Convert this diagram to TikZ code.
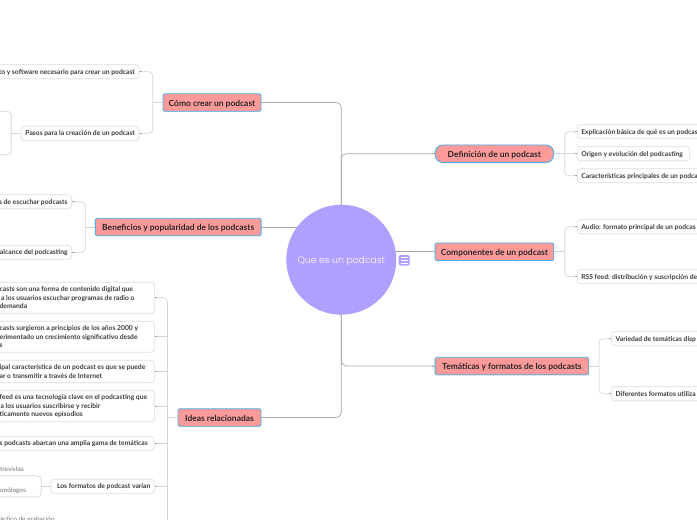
\documentclass[tikz,border=0pt]{standalone}
\usepackage{fontspec}
\setmainfont{Lato}
\newfontfamily\centerfont{Poppins Light}
\usetikzlibrary{shadows}
\definecolor{topicfill}{HTML}{FF9A9A}
\definecolor{topicline}{HTML}{45B0E8}
\definecolor{centerfill}{HTML}{AFA0FF}
\definecolor{leafline}{HTML}{DEDEDE}
\definecolor{busline}{HTML}{D6D6D6}
\definecolor{mainline}{HTML}{A8A8A8}
\definecolor{leaftext}{HTML}{3C3C3C}
\newcommand{\lpad}{\hspace*{30pt}}
\pgfdeclarelayer{bg}
\pgfsetlayers{bg,main}
\tikzset{
  x=1pt,y=-1pt,
  topic/.style={draw=topicline,line width=0.9pt,fill=topicfill,rounded corners=1.5pt,inner sep=0pt,
    minimum height=17.5pt,text height=7.5pt,text depth=0.5pt,font=\fontsize{8.45}{9}\selectfont\bfseries,text=black!85,
    drop shadow={shadow xshift=0pt,shadow yshift=-0.8pt,opacity=0.18}},
  leaf/.style={draw=leafline,line width=0.7pt,fill=white,rounded corners=3pt,inner ysep=0pt,inner xsep=4pt,
    font=\fontsize{6.75}{8.6}\selectfont\bfseries,text=leaftext},
  leafR/.style={leaf,anchor=east,align=flush right,minimum height=14pt,text height=6pt,text depth=0.8pt},
  leafL/.style={leaf,anchor=west,align=flush left,minimum height=14pt,text height=6pt,text depth=0.8pt},
  leafM/.style={leaf,anchor=east,align=flush left,inner xsep=0pt,text width=184.7pt},
  plain/.style={inner sep=0pt,anchor=west,font=\fontsize{6.4}{7}\selectfont,text=black!55},
  main/.style={draw=mainline,line width=0.7pt,rounded corners=5pt},
  bus/.style={draw=busline,line width=0.7pt,rounded corners=4pt},
  stub/.style={draw=mainline,line width=0.9pt},
}
\begin{document}
\begin{tikzpicture}
\useasboundingbox (0,0) rectangle (697,520);
\begin{pgfonlayer}{bg}
\fill[white] (0,0) rectangle (697,520);
\end{pgfonlayer}
% centre
\node[circle,fill=centerfill,minimum size=110pt,inner sep=0pt,text=white,text height=8pt,text depth=0.5pt,font=\fontsize{9.3}{10}\selectfont\centerfont] (center) at (341.3,259.7) {Que es un podcast};
\node[fill=centerfill,rounded corners=1.5pt,minimum width=11pt,minimum height=10.7pt,inner sep=0pt] (icon) at (404.2,260.3) {};
\draw[white,line width=0.8pt] (400.9,257.7) -- (407.5,257.7) (400.9,260.3) -- (407.5,260.3) (400.9,262.9) -- (407.5,262.9);
% topics
\node[topic,minimum width=98pt] (t1) at (212,102.5) {Cómo crear un podcast};
\node[topic,minimum width=165.7pt] (t2) at (178.2,227) {Beneficios y popularidad de los podcasts};
\node[topic,minimum width=83pt] (t3) at (219.5,417.5) {Ideas relacionadas};
\node[topic,minimum width=118.7pt,rounded corners=8pt] (t4) at (494.4,153.7) {Definición de un podcast};
\node[topic,minimum width=118.7pt] (t5) at (494.4,251.7) {Componentes de un podcast};
\node[topic,minimum width=153.7pt] (t6) at (511.9,366) {Temáticas y formatos de los podcasts};
% leaves, left
\node[leafR,text width=152pt] (a1) at (139.3,71.7) {to y software necesario para crear un podcast};
\node[leafR,text width=110pt] (a2) at (139.3,133.3) {Pasos para la creación de un podcast};
\node[leafR,text width=82pt] (b1) at (72,201.7) {s de escuchar podcasts};
\node[leafR,text width=82pt] (b2) at (72,252.3) {alcance del podcasting};
\node[leafM,minimum height=31pt] (c1) at (154.7,297.8) {\lpad casts son una forma de contenido digital que\\\lpad\hspace{1.5pt}a los usuarios escuchar programas de radio o\\\lpad demanda};
\node[leafM,minimum height=31pt] (c2) at (154.7,336.8) {\lpad casts surgieron a principios de los años 2000 y\\\lpad erimentado un crecimiento significativo desde\\\lpad s};
\node[leafM,minimum height=22.4pt] (c3) at (154.7,371.5) {\lpad ipal característica de un podcast es que se puede\\\lpad ar o transmitir a través de Internet};
\node[leafM,minimum height=31pt] (c4) at (154.7,406.2) {\lpad feed es una tecnología clave en el podcasting que\\\lpad\hspace{1pt}a los usuarios suscribirse y recibir\\\lpad ticamente nuevos episodios};
\node[leafM,minimum height=14pt,text height=6pt,text depth=0.8pt] (c5) at (154.7,443.3) {\lpad s podcasts abarcan una amplia gama de temáticas};
\node[leafR,text width=95.4pt] (c6) at (154.7,486.3) {Los formatos de podcast varían};
% leaves, right
\node[leafL,text width=132pt] (d1) at (577,131.7) {Explicación básica de qué es un podcas};
\node[leafL,text width=104.3pt] (d2) at (577,153.7) {Origen y evolución del podcasting};
\node[leafL,text width=132pt] (d3) at (577,175.7) {Características principales de un podca};
\node[leafL,text width=132pt] (e1) at (577,226.7) {Audio: formato principal de un podcas};
\node[leafL,text width=132pt] (e2) at (577,276.7) {RSS feed: distribución y suscripción de};
\node[leafL,text width=102pt] (f1) at (611.3,338.7) {Variedad de temáticas disp};
\node[leafL,text width=102pt] (f2) at (611.3,393.7) {Diferentes formatos utiliza};
% free texts
\node[plain] (g1) at (0,468.7) {trevistas};
\node[plain] (g2) at (0,491) {onólogos};
\node[plain] (g3) at (0,519.5) {áctico de grabación};
\begin{pgfonlayer}{bg}
% centre to topics
\draw[main] (center.center) |- (t1.east);
\draw[main] (t2.east) -- (center.center |- t2.east);
\draw[main] (center.center) |- (t3.east);
\draw[main] (center.center) |- (t4.west);
\draw[main] (center.center |- t5.west) -- (t5.west);
\draw[main] (center.center) |- (t6.west);
% topic buses
\coordinate (b1x) at (152.7,102.5);
\draw[bus] (a1.east) -| (b1x) |- (a2.east);
\draw[bus] (t1.west) -- (b1x);
\coordinate (b2x) at (85.3,227);
\draw[bus] (b1.east) -| (b2x) |- (b2.east);
\draw[bus] (t2.west) -- (b2x);
\coordinate (b3x) at (167.5,417.5);
\coordinate (b3end) at (167.5,530);
\draw[bus] (c1.east) -| (b3end);
\draw[bus] (t3.west) -- (b3x);
\foreach \n in {c2,c3,c4,c5,c6} \draw[bus] (\n.east) -- (\n.east -| b3x);
\coordinate (b4x) at (564.7,153.7);
\draw[bus] (d1.west) -| (b4x) |- (d3.west);
\draw[bus] (t4.east) -- (d2.west);
\coordinate (b5x) at (564.7,251.7);
\draw[bus] (e1.west) -| (b5x) |- (e2.west);
\draw[bus] (t5.east) -- (b5x);
\coordinate (b6x) at (599,366);
\draw[bus] (f1.west) -| (b6x) |- (f2.west);
\draw[bus] (t6.east) -- (b6x);
% leaf brackets
\coordinate (h1t) at (-5,111.3);
\coordinate (h1b) at (-5,154.7);
\draw[bus] (h1t) -| (11.3,133.3) |- (h1b);
\draw[bus] (a2.west) -- (11.3,133.3);
\coordinate (h2t) at (-5,475.7);
\coordinate (h2b) at (-5,497);
\draw[bus] (h2t) -| (41.3,486.3) |- (h2b);
\draw[bus] (c6.west) -- (41.3,486.3);
% small handles at the node edges
\foreach \n in {t1,t2,t3,a1,a2,b1,b2,c1,c2,c3,c4,c5,c6} \draw[stub] (\n.east) -- ++(2.5,0);
\foreach \n in {t4,t5,t6,d1,d2,d3,e1,e2,f1,f2} \draw[stub] (\n.west) -- ++(-2.5,0);
\end{pgfonlayer}
\end{tikzpicture}
\end{document}
